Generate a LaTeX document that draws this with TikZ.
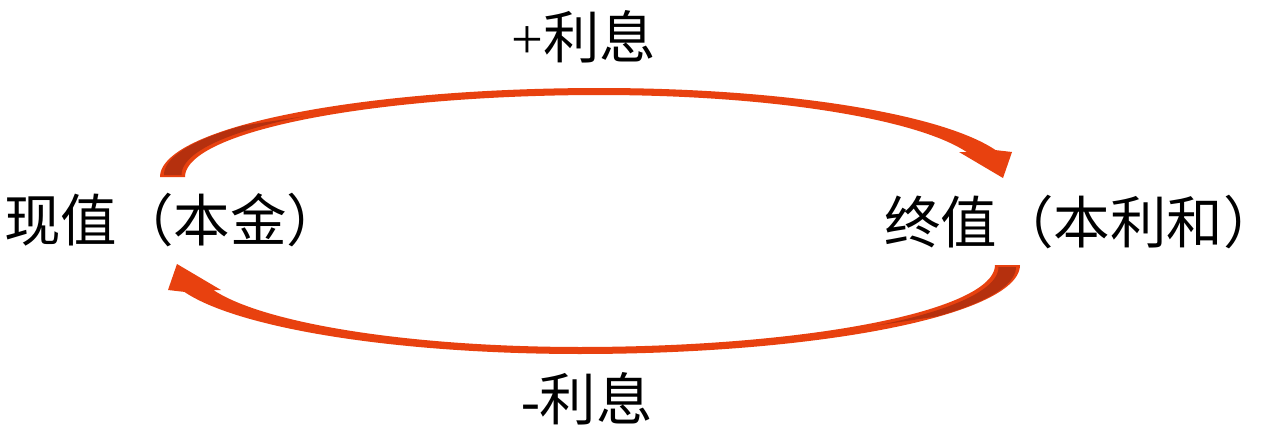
\documentclass[tikz,border=0pt]{standalone}
\usepackage{fontspec}
\setmainfont{Liberation Serif}
\newfontfamily\cjk{Noto Sans CJK SC}
\definecolor{arrorange}{HTML}{E8410F}
\definecolor{arrdark}{HTML}{B5300E}
\newcommand\orbitarrow{%
  \fill[arrorange]
    plot[ell,domain=180:90] ({600+440*cos(\t)},{177-89*sin(\t)})
    -- plot[ell,domain=90:17.6] ({600+415*cos(\t)},{177-89*sin(\t)})
    -- (1012,152) -- (1003,178) -- (959,152) -- (966.6,152)
    -- plot[ell,domain=17.8:90] ({600+385*cos(\t)},{177-82*sin(\t)})
    -- plot[ell,domain=90:180] ({600+415*cos(\t)},{177-82*sin(\t)})
    -- cycle;
  \fill[arrdark]
    plot[ell,domain=180:135] ({600+418.5*cos(\t)},{175-83*sin(\t)})
    -- plot[ell,domain=145:180] ({600+436*cos(\t)},{175-86*sin(\t)})
    -- cycle;
}
\begin{document}
\begin{tikzpicture}[x=1pt,y=-1pt,
  ell/.style={variable=\t,samples=80},
  lbl/.style={inner sep=0pt,font=\fontsize{56.5}{56.5}\selectfont\cjk}]
\useasboundingbox (0,0) rectangle (1280,442);
\fill[white] (0,0) rectangle (1280,442);
\orbitarrow
\begin{scope}[rotate around={180:(590,221)}]
  \orbitarrow
\end{scope}
\node[lbl,anchor=west] (pv) at (4,220) {现值（本金）};
\node[lbl,anchor=west] (fv) at (884,222) {终值（本利和）};
\node[lbl] (plus) at (584,37) {{\rmfamily +}利息};
\node[lbl] (minus) at (587,399) {{\rmfamily -}利息};
\end{tikzpicture}
\end{document}
